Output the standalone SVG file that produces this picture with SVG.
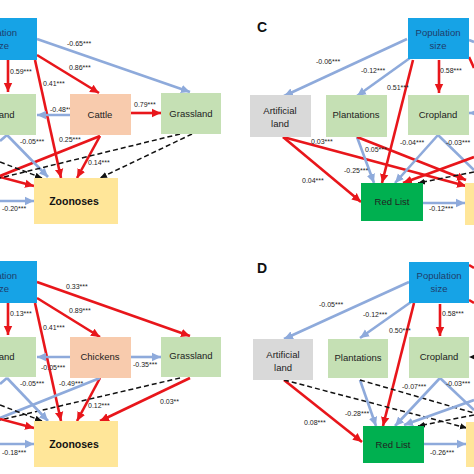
<svg xmlns="http://www.w3.org/2000/svg" width="474" height="474" viewBox="0 0 474 474">
<defs>
<marker id="ar" markerUnits="userSpaceOnUse" markerWidth="10" markerHeight="10" refX="9" refY="5" orient="auto"><path d="M0,0.8 L9,5 L0,9.2 Z" fill="#e8161b"/></marker>
<marker id="ab" markerUnits="userSpaceOnUse" markerWidth="10" markerHeight="10" refX="9" refY="5" orient="auto"><path d="M0,0.8 L9,5 L0,9.2 Z" fill="#8eaadb"/></marker>
<marker id="ak" markerUnits="userSpaceOnUse" markerWidth="8" markerHeight="8" refX="7" refY="4" orient="auto"><path d="M0,1 L7,4 L0,7 Z" fill="#111"/></marker>
</defs>
<style>
.r{stroke:#e8161b;stroke-width:2.6;fill:none}
.b{stroke:#8eaadb;stroke-width:2.6;fill:none}
.k{stroke:#111;stroke-width:1.5;stroke-dasharray:5,3;fill:none}
.ra{marker-end:url(#ar)}
.ba{marker-end:url(#ab)}
.ka{marker-end:url(#ak)}
.lb{font-family:"Liberation Sans",Arial,sans-serif;font-size:7px;fill:#222}
.nt{font-family:"Liberation Sans",Arial,sans-serif;font-size:9.5px;fill:#222;text-anchor:middle}
.pt{font-family:"Liberation Sans",Arial,sans-serif;font-size:9.5px;fill:#1f3d6b;text-anchor:middle}
.zt{font-family:"Liberation Sans",Arial,sans-serif;font-size:10.5px;font-weight:bold;fill:#111;text-anchor:middle}
.pl{font-family:"Liberation Sans",Arial,sans-serif;font-size:14px;font-weight:bold;fill:#111}
.pop{fill:#16a3e6}
.grn{fill:#c5e0b4}
.pea{fill:#f8cbad}
.yel{fill:#ffe699}
.gry{fill:#d9d9d9}
.rl{fill:#00b050}
</style>
<rect width="474" height="474" fill="#fff"/>

<g id="connectors">
<!-- Panel A -->
<path class="r ra" d="M8,60 L8,92"/>
<path class="b ba" d="M37,39 L190,92"/>
<path class="r ra" d="M37,55 L99,93"/>
<path class="r ra" d="M35,60 L61,178"/>
<path class="b ba" d="M70,115 L37,115"/>
<path class="r ra" d="M131,113 L161,113"/>
<path class="r ra" d="M100,136 L77,178"/>
<path class="r" d="M100,136 L0,176"/>
<path class="r ra" d="M0,177 L34,186"/>
<path class="b" d="M7,135 L0,141"/>
<path class="b ba" d="M7,135 L48,177"/>
<path class="k ka" d="M192,134 L100,178"/>
<path class="k" d="M180,134 L0,178"/>
<path class="k ka" d="M0,162 L42,178"/>
<path class="b ba" d="M0,201 L34,201"/>

<!-- Panel C -->
<path class="b ba" d="M407,39 L284,96"/>
<path class="b ba" d="M410,58 L357,96"/>
<path class="r ra" d="M439,60 L439,93"/>
<path class="r ra" d="M413,60 L382,183"/>
<path class="r ra" d="M283,137 L361,202"/>
<path class="r ra" d="M283,137 L466,186"/>
<path class="b ba" d="M357,137 L374,183"/>
<path class="r ra" d="M357,137 L466,180"/>
<path class="b ba" d="M438,135 L395,183"/>
<path class="b" d="M438,135 L474,170"/>
<path class="b ba" d="M423,203 L465,203"/>
<path class="r ra" d="M474,157 L403,183"/>
<path class="k ka" d="M474,172 L418,183"/>
<path class="r" d="M469,57 L474,68"/>
<path class="b" d="M469,40 L474,42"/>
<path class="b ba" d="M476,113 L469,113"/>

<!-- Panel B -->
<path class="r ra" d="M8,303 L8,335"/>
<path class="r ra" d="M37,282 L190,336"/>
<path class="r ra" d="M37,298 L100,337"/>
<path class="r ra" d="M35,303 L61,421"/>
<path class="b ba" d="M70,357 L37,357"/>
<path class="b ba" d="M131,357 L161,357"/>
<path class="r ra" d="M100,378 L77,421"/>
<path class="b" d="M100,378 L0,418"/>
<path class="r ra" d="M190,378 L100,421"/>
<path class="k" d="M180,378 L0,420"/>
<path class="k ka" d="M0,405 L42,421"/>
<path class="b" d="M7,378 L0,384"/>
<path class="b ba" d="M7,378 L48,421"/>
<path class="r ra" d="M0,419 L34,428"/>
<path class="b ba" d="M0,444 L34,444"/>

<!-- Panel D -->
<path class="b ba" d="M409,282 L284,339"/>
<path class="b ba" d="M411,302 L360,338"/>
<path class="r ra" d="M440,304 L440,336"/>
<path class="r ra" d="M414,303 L383,426"/>
<path class="r ra" d="M284,380 L362,442"/>
<path class="k ka" d="M284,380 L467,428"/>
<path class="b ba" d="M360,380 L376,426"/>
<path class="k" d="M360,380 L474,413"/>
<path class="b ba" d="M440,378 L395,426"/>
<path class="b" d="M440,378 L474,410"/>
<path class="b ba" d="M424,444 L466,444"/>
<path class="b ba" d="M474,400 L404,425"/>
<path class="k ka" d="M474,415 L418,426"/>
<path class="r" d="M469,265 L474,268"/>
<path class="r" d="M469,300 L474,303"/>
<path class="k ka" d="M476,357 L469,357"/>
</g>

<g id="labels">
<text class="lb" x="10" y="74">0.59***</text>
<text class="lb" x="67" y="46">-0.65***</text>
<text class="lb" x="69" y="70">0.86***</text>
<text class="lb" x="43" y="86">0.41***</text>
<text class="lb" x="50" y="112">-0.48***</text>
<text class="lb" x="134" y="107">0.79***</text>
<text class="lb" x="59" y="142">0.25***</text>
<text class="lb" x="20" y="144">-0.05***</text>
<text class="lb" x="88" y="165">0.14***</text>
<text class="lb" x="2" y="211">-0.20***</text>

<text class="lb" x="316" y="64">-0.06***</text>
<text class="lb" x="361" y="73">-0.12***</text>
<text class="lb" x="440" y="73">0.58***</text>
<text class="lb" x="387" y="90">0.51***</text>
<text class="lb" x="311" y="144">0.03***</text>
<text class="lb" x="365" y="152">0.05***</text>
<text class="lb" x="400" y="145">-0.04***</text>
<text class="lb" x="446" y="145">-0.03***</text>
<text class="lb" x="344" y="173">-0.25***</text>
<text class="lb" x="302" y="183">0.04***</text>
<text class="lb" x="429" y="211">-0.12***</text>

<text class="lb" x="66" y="289">0.33***</text>
<text class="lb" x="69" y="313">0.89***</text>
<text class="lb" x="10" y="316">0.13***</text>
<text class="lb" x="43" y="330">0.41***</text>
<text class="lb" x="41" y="370">-0.05***</text>
<text class="lb" x="133" y="367">-0.35***</text>
<text class="lb" x="20" y="386">-0.05***</text>
<text class="lb" x="59" y="386">-0.49***</text>
<text class="lb" x="88" y="408">0.12***</text>
<text class="lb" x="160" y="404">0.03**</text>
<text class="lb" x="2" y="455">-0.18***</text>

<text class="lb" x="319" y="307">-0.05***</text>
<text class="lb" x="363" y="317">-0.12***</text>
<text class="lb" x="442" y="316">0.58***</text>
<text class="lb" x="389" y="333">0.50***</text>
<text class="lb" x="402" y="389">-0.07***</text>
<text class="lb" x="446" y="386">-0.03***</text>
<text class="lb" x="345" y="416">-0.28***</text>
<text class="lb" x="304" y="425">0.08***</text>
<text class="lb" x="430" y="455">-0.26***</text>
</g>

<!-- Panel A nodes -->
<g id="A-pop"><rect class="pop" x="0" y="18" width="37" height="42"/><text class="pt" x="3" y="36" text-anchor="start">ulation</text><text class="pt" x="3" y="49" text-anchor="start">ize</text></g>
<g id="A-cropland"><rect class="grn" x="0" y="94" width="36" height="41"/><text class="nt" x="3" y="118" text-anchor="start">pland</text></g>
<g id="A-cattle"><rect class="pea" x="70" y="94" width="61" height="41"/><text class="nt" x="100" y="118">Cattle</text></g>
<g id="A-grassland"><rect class="grn" x="161" y="93" width="60" height="41"/><text class="nt" x="191" y="117">Grassland</text></g>
<g id="A-zoonoses"><rect class="yel" x="34" y="178" width="84" height="46"/><text class="zt" x="74" y="205">Zoonoses</text></g>

<!-- Panel C nodes -->
<text class="pl" x="257" y="32">C</text>
<g id="C-pop"><rect class="pop" x="408" y="18" width="61" height="41"/><text class="pt" x="438" y="36">Population</text><text class="pt" x="438" y="49">size</text></g>
<g id="C-artificial"><rect class="gry" x="250" y="95" width="61" height="42"/><text class="nt" x="280" y="114">Artificial</text><text class="nt" x="280" y="127">land</text></g>
<g id="C-plantations"><rect class="grn" x="326" y="95" width="61" height="42"/><text class="nt" x="356" y="118">Plantations</text></g>
<g id="C-cropland"><rect class="grn" x="408" y="95" width="61" height="40"/><text class="nt" x="438" y="118">Cropland</text></g>
<g id="C-redlist"><rect class="rl" x="361" y="183" width="62" height="38"/><text class="nt" x="392" y="205">Red List</text></g>
<g id="C-zoonoses"><rect class="yel" x="465" y="183" width="9" height="42"/></g>

<!-- Panel B nodes -->
<g id="B-pop"><rect class="pop" x="0" y="261" width="37" height="42"/><text class="pt" x="3" y="279" text-anchor="start">ulation</text><text class="pt" x="3" y="292" text-anchor="start">ize</text></g>
<g id="B-cropland"><rect class="grn" x="0" y="337" width="36" height="40"/><text class="nt" x="3" y="360" text-anchor="start">pland</text></g>
<g id="B-chickens"><rect class="pea" x="70" y="337" width="61" height="41"/><text class="nt" x="100" y="360">Chickens</text></g>
<g id="B-grassland"><rect class="grn" x="161" y="337" width="60" height="40"/><text class="nt" x="191" y="359">Grassland</text></g>
<g id="B-zoonoses"><rect class="yel" x="34" y="421" width="84" height="46"/><text class="zt" x="74" y="448">Zoonoses</text></g>

<!-- Panel D nodes -->
<text class="pl" x="257" y="273">D</text>
<g id="D-pop"><rect class="pop" x="409" y="262" width="60" height="41"/><text class="pt" x="439" y="279">Population</text><text class="pt" x="439" y="292">size</text></g>
<g id="D-artificial"><rect class="gry" x="253" y="339" width="60" height="41"/><text class="nt" x="283" y="358">Artificial</text><text class="nt" x="283" y="371">land</text></g>
<g id="D-plantations"><rect class="grn" x="328" y="339" width="60" height="39"/><text class="nt" x="358" y="361">Plantations</text></g>
<g id="D-cropland"><rect class="grn" x="409" y="337" width="60" height="41"/><text class="nt" x="439" y="360">Cropland</text></g>
<g id="D-redlist"><rect class="rl" x="363" y="426" width="61" height="37"/><text class="nt" x="393" y="448">Red List</text></g>
<g id="D-zoonoses"><rect class="yel" x="466" y="422" width="8" height="45"/></g>
</svg>
